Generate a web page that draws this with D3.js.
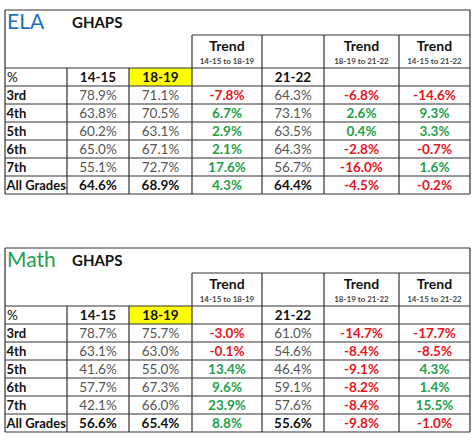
<!DOCTYPE html>
<html><head><meta charset="utf-8">
<script src="https://cdn.jsdelivr.net/npm/d3@7"></script>
<style>body{margin:0;background:#fff}text{font-family:Lato,"Open Sans",sans-serif}</style>
</head><body><div id="chart"></div>
<script>
// data
const grades = ["3rd", "4th", "5th", "6th", "7th", "All Grades"];
const years = ["14-15", "18-19", "21-22"];
const trendRanges = ["14-15 to 18-19", "18-19 to 21-22", "14-15 to 21-22"];

const elaY1415 = [78.9, 63.8, 60.2, 65.0, 55.1, 64.6];
const elaY1819 = [71.1, 70.5, 63.1, 67.1, 72.7, 68.9];
const elaT1 = [-7.8, 6.7, 2.9, 2.1, 17.6, 4.3];
const elaY2122 = [64.3, 73.1, 63.5, 64.3, 56.7, 64.4];
const elaT2 = [-6.8, 2.6, 0.4, -2.8, -16.0, -4.5];
const elaT3 = [-14.6, 9.3, 3.3, -0.7, 1.6, -0.2];

const mathY1415 = [78.7, 63.1, 41.6, 57.7, 42.1, 56.6];
const mathY1819 = [75.7, 63.0, 55.0, 67.3, 66.0, 65.4];
const mathT1 = [-3.0, -0.1, 13.4, 9.6, 23.9, 8.8];
const mathY2122 = [61.0, 54.6, 46.4, 59.1, 57.6, 55.6];
const mathT2 = [-14.7, -8.4, -9.1, -8.2, -8.4, -9.8];
const mathT3 = [-17.7, -8.5, 4.3, 1.4, 15.5, -1.0];

const xs = [5, 67, 129, 192, 262, 324, 399, 470];
const red = "#e8141e", green = "#1fa04a";

const svg = d3.select("#chart").append("svg").attr("width", 474).attr("height", 444);

function drawTable(top, subject, subjColor, cols) {
  const g = svg.append("g").attr("transform", `translate(0,${top})`);
  const rowY = d3.scaleBand().domain(d3.range(6)).range([76, 184]);
  const line = (x1, y1, x2, y2) => g.append("line").attr("x1", x1).attr("y1", y1).attr("x2", x2).attr("y2", y2)
    .attr("stroke", "#333").attr("stroke-width", 1.2);

  // yellow 18-19
  g.append("rect").attr("x", xs[2]).attr("y", 58).attr("width", xs[3] - xs[2]).attr("height", 18).attr("fill", "#ffff00");

  // titles
  g.append("text").attr("x", 7).attr("y", 19).attr("font-size", 21).attr("fill", subjColor).text(subject);
  g.append("text").attr("x", 72).attr("y", 18).attr("font-size", 15).attr("font-weight", "bold").attr("fill", "#111").text("GHAPS");

  // trend headers
  [[3, 0], [5, 1], [6, 2]].forEach(([c, i]) => {
    const cx = (xs[c] + xs[c + 1]) / 2;
    g.append("text").attr("x", cx).attr("y", 41).attr("text-anchor", "middle").attr("font-size", 14).attr("font-weight", "bold").attr("fill", "#111").text("Trend");
    g.append("text").attr("x", cx).attr("y", 54).attr("text-anchor", "middle").attr("font-size", 8).attr("font-weight", "bold").attr("fill", "#444").text(trendRanges[i]);
  });

  // column headers
  g.append("text").attr("x", 7).attr("y", 72).attr("font-size", 13.5).attr("fill", "#111").text("%");
  [[1, 0], [2, 1], [4, 2]].forEach(([c, i]) => {
    g.append("text").attr("x", (xs[c] + xs[c + 1]) / 2).attr("y", 72).attr("text-anchor", "middle")
      .attr("font-size", 13.5).attr("font-weight", "bold").attr("fill", "#111").text(years[i]);
  });

  // body
  grades.forEach((gr, r) => {
    const y = rowY(r) + rowY.bandwidth() / 2 + 5;
    const last = r === grades.length - 1;
    g.append("text").attr("x", 6.5).attr("y", y).attr("font-size", 13).attr("font-weight", "bold").attr("fill", "#111").text(gr);
    cols.forEach(([c, vals, isTrend]) => {
      const v = vals[r];
      g.append("text").attr("x", (xs[c] + xs[c + 1]) / 2).attr("y", y).attr("text-anchor", "middle")
        .attr("font-size", 13.5)
        .attr("font-weight", isTrend || last ? "bold" : "normal")
        .attr("fill", isTrend ? (v < 0 ? red : green) : (last ? "#111" : "#555"))
        .text(v.toFixed(1) + "%");
    });
  });

  // grid
  line(xs[0], 0, xs[7], 0);
  line(xs[0], 0, xs[0], 184);
  line(xs[7], 0, xs[7], 184);
  line(xs[3], 25, xs[7], 25);
  [3, 4, 5, 6].forEach(c => line(xs[c], 25, xs[c], 184));
  [1, 2].forEach(c => line(xs[c], 58, xs[c], 184));
  line(xs[0], 58, xs[7], 58);
  d3.range(7).forEach(r => { const y = r < 6 ? rowY(r) : 184; line(xs[0], y, xs[7], y); });
}

drawTable(10, "ELA", "#1f6fc0", [[1, elaY1415], [2, elaY1819], [3, elaT1, true], [4, elaY2122], [5, elaT2, true], [6, elaT3, true]]);
drawTable(248, "Math", green, [[1, mathY1415], [2, mathY1819], [3, mathT1, true], [4, mathY2122], [5, mathT2, true], [6, mathT3, true]]);
</script></body></html>
